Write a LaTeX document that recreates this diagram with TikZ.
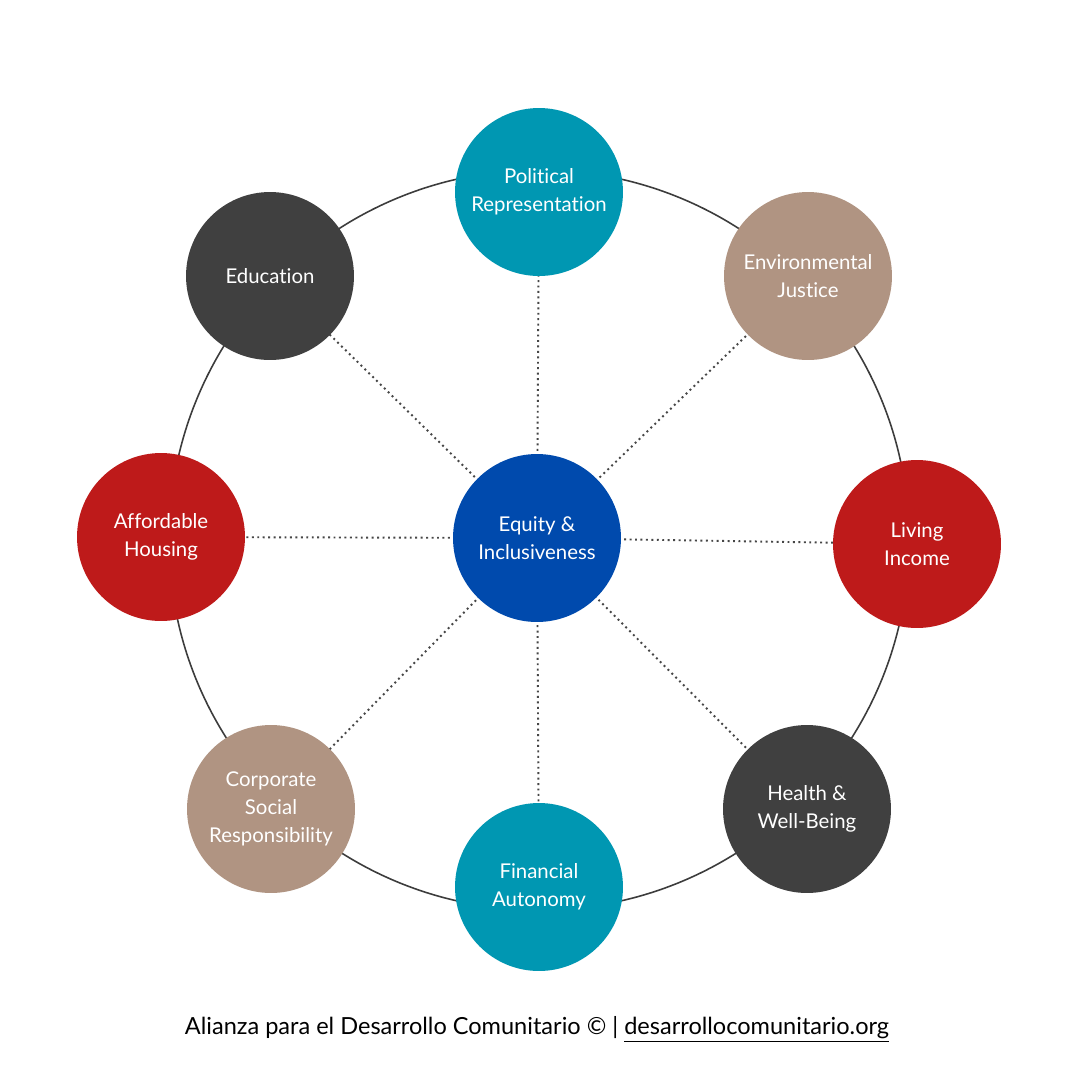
\documentclass[tikz,border=0pt]{standalone}
\usepackage{fontspec}
\setmainfont[Ligatures={NoCommon}]{Lato}
\begin{document}
\begin{tikzpicture}[x=0.02cm,y=-0.02cm,
  bub/.style={circle,minimum size=3.36cm,inner sep=0pt,text=white,align=center,font=\fontsize{11.6}{16}\selectfont},
  teal/.style={bub,fill={rgb,255:red,0;green,151;blue,178}},
  tan/.style={bub,fill={rgb,255:red,176;green,148;blue,130}},
  red/.style={bub,fill={rgb,255:red,190;green,26;blue,26}},
  dark/.style={bub,fill={rgb,255:red,64;green,64;blue,64}},
  blue/.style={bub,fill={rgb,255:red,0;green,74;blue,173}},
  link/.style={dotted,line width=1.1pt,draw={rgb,255:red,70;green,70;blue,70}}]
\useasboundingbox (0,0) rectangle (1080,1080);
\fill[white] (0,0) rectangle (1080,1080);
\draw[line width=0.9pt,draw={rgb,255:red,60;green,60;blue,60}] (539,540) circle (370);
\coordinate (o) at (537,538);
\foreach \p in {(539,192),(808,276),(917,544),(807,809),(539,887),(271,809),(161,537),(270,276)}
  \draw[link] (o) -- \p;
\node[blue] (c) at (o) {Equity \&\\Inclusiveness};
\node[teal] (pr) at (539,192) {Political\\Representation};
\node[tan] (ej) at (808,276) {Environmental\\Justice};
\node[red] (li) at (917,544) {Living\\Income};
\node[dark] (hw) at (807,809) {Health \&\\Well-Being};
\node[teal] (fa) at (539,887) {Financial\\Autonomy};
\node[tan] (cs) at (271,809) {Corporate\\Social\\Responsibility};
\node[red] (ah) at (161,537) {Affordable\\Housing};
\node[dark] (ed) at (270,276) {Education};
\node[font=\fontsize{13.4}{16}\selectfont] (ft) at (537,1029) {Alianza para el Desarrollo Comunitario © | \underline{desarrollocomunitario.org}};
\end{tikzpicture}
\end{document}
